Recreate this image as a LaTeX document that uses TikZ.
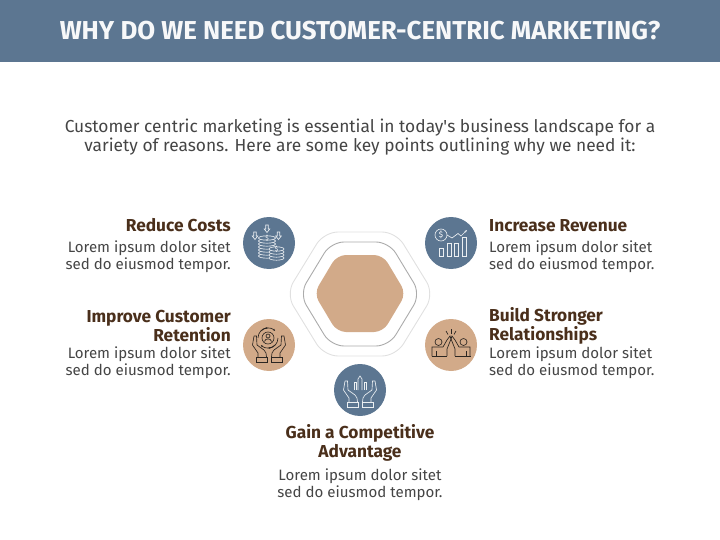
\documentclass[tikz,border=0pt]{standalone}
\usepackage{fontspec}
\setmainfont{Fira Sans}
\usetikzlibrary{arrows.meta}

\definecolor{slate}{HTML}{5C7691}
\definecolor{sand}{HTML}{D2AA89}
\definecolor{umber}{HTML}{4A2F1B}
\definecolor{ink}{HTML}{454545}
\definecolor{darkline}{HTML}{2B2622}

\tikzset{
	headtxt/.style={font=\fontsize{17.3}{19}\selectfont\bfseries,text=umber,inner sep=0pt},
	bodytxt/.style={font=\fontsize{15.05}{17}\selectfont,text=ink,inner sep=0pt},
	lighticon/.style={draw=white!88!slate,line width=.65pt},
	darkicon/.style={draw=darkline,line width=.65pt}
}

% left hand, the right one comes from xscale=-1
\newcommand{\openhand}{
	\draw (-15,-9) -- (-12.5,-9) -- (-12,0) -- (-5,5) -- (-3,8) -- (-2.5,12);
	\draw (-15,-9) -- (-16.5,0) -- (-11,8) -- (-11,12);
	\draw (-13,12) rectangle (-2,17);
}
\newcommand{\coinstack}[3]{
	\foreach \y in {#3}{
		\draw[fill=slate] (#1,\y) ellipse [x radius=#2, y radius=2.2];
	}
}
\newcommand{\downarrowbox}[2]{
	\draw (#1-1.2,#2-4) -- (#1+1.2,#2-4) -- (#1+1.2,#2) -- (#1+2.8,#2) -- (#1,#2+3.5) -- (#1-2.8,#2) -- (#1-1.2,#2) -- cycle;
}

\begin{document}
\begin{tikzpicture}[x=1pt,y=-1pt]

	\useasboundingbox (0,0) rectangle (720,540);
	\fill[slate] (0,0) rectangle (720,62);

	\node (title)[text=white!95!slate,font=\fontsize{25.9}{29}\selectfont\bfseries,inner sep=0pt] at (360,30.5){WHY DO WE NEED CUSTOMER-CENTRIC MARKETING?};
	\node (intro)[text=ink,font=\fontsize{17.36}{19}\selectfont,align=center,inner sep=0pt] at (360,137.5){Customer centric marketing is essential in today\textquotesingle s business landscape for a\\variety of reasons. Here are some key points outlining why we need it:};

	% hexagons
	\draw[rounded corners=14pt,draw=black!12,line width=.9pt] (286,294) -- (324,232) -- (396,232) -- (434,294) -- (396,356) -- (324,356) -- cycle;
	\draw[rounded corners=13pt,draw=black!33,line width=.9pt] (299.5,294) -- (331,242) -- (389,242) -- (420.5,294) -- (389,346) -- (331,346) -- cycle;
	\fill[sand,rounded corners=9pt] (314,293.5) -- (337,255) -- (383,255) -- (406,293.5) -- (383,332) -- (337,332) -- cycle;

	\fill[slate] (269,243) circle (26);
	\fill[slate] (451,243) circle (26);
	\fill[sand] (269,345) circle (26);
	\fill[sand] (451,345) circle (26);
	\fill[slate] (360,390) circle (26);

	% coins
	\begin{scope}[shift={(269,243)},lighticon]
		\downarrowbox{-2}{-14}
		\downarrowbox{-14}{-7}
		\downarrowbox{9.5}{-7}
		\coinstack{-2}{8.5}{13,10,7,4,1,-2,-5}
		\coinstack{7.5}{7.5}{15,12,9,6}
		\node (d1)[text=white,font=\fontsize{6.5}{7}\selectfont,inner sep=0pt] at (-2,-5){\$};
		\node (d2)[text=white,font=\fontsize{6.5}{7}\selectfont,inner sep=0pt] at (7.5,6){\$};
	\end{scope}

	% revenue
	\begin{scope}[shift={(451,243)},lighticon]
		\draw (-10,-8) circle (6);
		\node (d3)[text=white,font=\fontsize{8}{9}\selectfont,inner sep=0pt] at (-10,-8){\$};
		\draw[-{Stealth[length=3pt]}] (-4,-8) -- (1,-5) -- (7,-9.5) -- (10,-7) -- (16,-13);
		\draw (-12,5) rectangle (-8,13);
		\draw (-4,0) rectangle (0,13);
		\draw (3.5,0) rectangle (7.5,13);
		\draw (11.5,-6) rectangle (15.5,13);
	\end{scope}

	% retention
	\begin{scope}[shift={(269,345)},darkicon]
		\openhand
		\begin{scope}[xscale=-1]
			\openhand
		\end{scope}
		\draw[-{Stealth[length=2.5pt]}] (-11,-7) arc (180:270:10);
		\draw[-{Stealth[length=2.5pt]}] (9,-7) arc (0:90:10);
		\draw[-{Stealth[length=2.5pt]}] (-8,-14) arc (225:315:10);
		\draw[-{Stealth[length=2.5pt]}] (6,0) arc (45:135:10);
		\draw (-1,-7) circle (6);
		\draw (-1,-9) circle (2);
		\draw (-4.5,-3.5) .. controls (-4,-7) and (2,-7) .. (2.5,-3.5);
	\end{scope}

	% high five
	\begin{scope}[shift={(451,345)},darkicon]
		\draw (-12.5,-3) circle (3.5);
		\draw (12.5,-3) circle (3.5);
		\draw (-19,11) -- (-19,2) -- (-8,2) -- (-4,-5) -- (-1,-9) -- (0,-6) -- (-4,4) -- (-4,11);
		\draw (19,11) -- (19,2) -- (8,2) -- (4,-5) -- (1,-9) -- (0,-6) -- (4,4) -- (4,11);
		\draw (-19.5,11) -- (-4,11);
		\draw (19.5,11) -- (4,11);
		\draw (-15,11) -- (-15,6);
		\draw (15,11) -- (15,6);
		\draw (0,-16) -- (0,-11);
		\draw (-5,-14) -- (-3,-10.5);
		\draw (5,-14) -- (3,-10.5);
	\end{scope}

	% advantage
	\begin{scope}[shift={(360,390)},lighticon]
		\openhand
		\begin{scope}[xscale=-1]
			\openhand
		\end{scope}
		\draw (-6,0) -- (-6,-8) -- (-4,-8) -- (-4,0);
		\draw (-2,0) -- (-2,-11) -- (0,-14) -- (2,-11) -- (2,0);
		\draw (6,0) -- (6,-8) -- (4,-8) -- (4,0);
	\end{scope}

	\node (H1)[headtxt,anchor=east] at (231,225.5){Reduce Costs};
	\node (L1)[bodytxt,anchor=north east,align=right] at (231,240.5){Lorem ipsum dolor sitet\\sed do eiusmod tempor.};

	\node (H2)[headtxt,anchor=west] at (489,225.5){Increase Revenue};
	\node (L2)[bodytxt,anchor=north west,align=left] at (489,240.5){Lorem ipsum dolor sitet\\sed do eiusmod tempor.};

	\node (H3)[headtxt,anchor=east,align=right] at (231,326){Improve Customer\\Retention};
	\node (L3)[bodytxt,anchor=north east,align=right] at (231,347){Lorem ipsum dolor sitet\\sed do eiusmod tempor.};

	\node (H4)[headtxt,anchor=west,align=left] at (489,326){Build Stronger\\Relationships};
	\node (L4)[bodytxt,anchor=north west,align=left] at (489,347){Lorem ipsum dolor sitet\\sed do eiusmod tempor.};

	\node (H5)[headtxt,align=center] at (360,443){Gain a Competitive\\Advantage};
	\node (L5)[bodytxt,anchor=north,align=center] at (360,468.5){Lorem ipsum dolor sitet\\sed do eiusmod tempor.};

\end{tikzpicture}
\end{document}
